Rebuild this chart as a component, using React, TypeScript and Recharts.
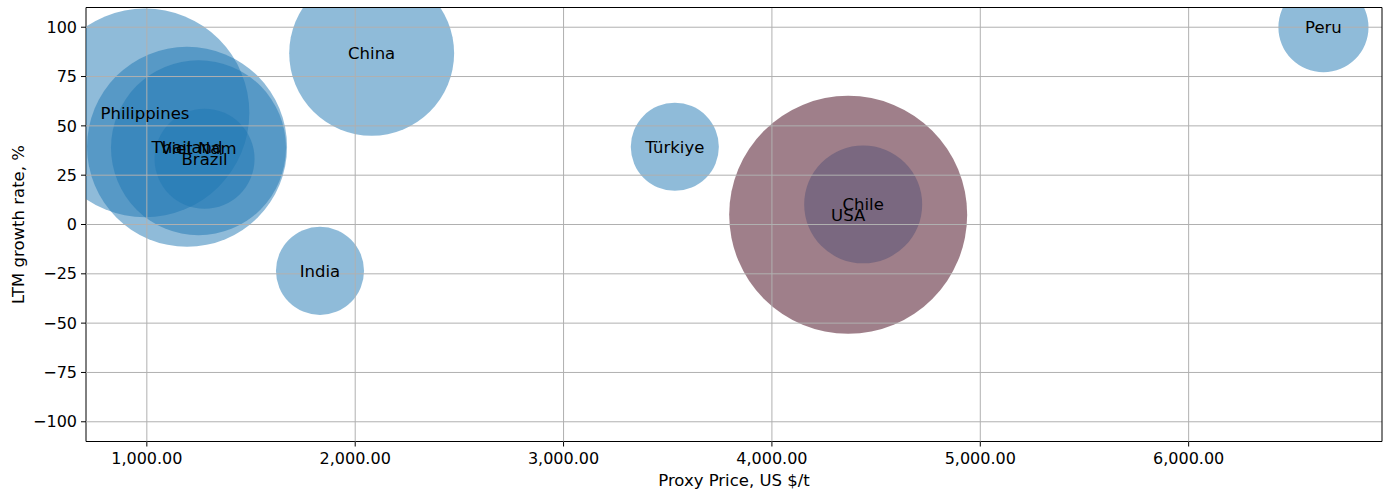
import { ScatterChart, Scatter, XAxis, YAxis, ZAxis, CartesianGrid, Cell, LabelList, ReferenceLine } from "recharts";

const countries = ["Philippines", "Thailand", "Viet Nam", "Brazil", "China", "India", "Türkiye", "USA", "Chile", "Peru"];
const proxyPrice = [991, 1193, 1248, 1277, 2079, 1831, 3534, 4366, 4438, 6647];
const growthRate = [56.6, 39.4, 38.9, 33.3, 86.8, -23.5, 39.4, 4.9, 10.2, 100];
const volume = [109, 100, 76.6, 25, 68, 19.4, 19.4, 141.6, 34.8, 20.3];
const colors = ["#1f77b4", "#1f77b4", "#1f77b4", "#1f77b4", "#1f77b4", "#1f77b4", "#1f77b4", "#400015", "#555276", "#1f77b4"];

const xTicks = [1000, 2000, 3000, 4000, 5000, 6000];
const yTicks = [-100, -75, -50, -25, 0, 25, 50, 75, 100];
const xDomain = [708, 6928];
const yDomain = [-110, 110];

const data = countries.map((name, i) => ({
  name,
  price: proxyPrice[i],
  growth: growthRate[i],
  volume: volume[i],
}));

const font = "'DejaVu Sans', sans-serif";
const tickStyle = { fontSize: 16, fill: "#000", fontFamily: font };

function fmtPrice(v: number): string {
  return v.toLocaleString("en-US", { minimumFractionDigits: 2, maximumFractionDigits: 2 });
}

function fmtGrowth(v: number): string {
  return v < 0 ? `\u2212${-v}` : `${v}`;
}

export default function App() {
  return (
    <div style={{ position: "absolute", left: 0, top: 0, width: 1389, height: 489, background: "#fff", fontFamily: font }}>
      <ScatterChart width={1389} height={489} margin={{ top: 7.5, right: 7, bottom: 0, left: 0 }}>
        <XAxis
          type="number"
          dataKey="price"
          domain={xDomain}
          ticks={xTicks}
          allowDataOverflow
          tickFormatter={fmtPrice}
          tick={tickStyle}
          tickSize={5}
          tickMargin={6}
          height={47.5}
          stroke="#000"
          label={{ value: "Proxy Price, US $/t", position: "insideBottom", offset: 3, fontSize: 16.5, fill: "#000", fontFamily: font }}
        />
        <YAxis
          type="number"
          dataKey="growth"
          domain={yDomain}
          ticks={yTicks}
          allowDataOverflow
          tickFormatter={fmtGrowth}
          tick={tickStyle}
          tickSize={5}
          tickMargin={4}
          width={86}
          stroke="#000"
          label={{ value: "LTM growth rate, %", angle: -90, position: "insideLeft", offset: 18, fontSize: 16.5, fill: "#000", fontFamily: font, style: { textAnchor: "middle" } }}
        />
        <ZAxis type="number" dataKey="volume" domain={[0, 150]} range={[0, 47124]} />
        <Scatter data={data} isAnimationActive={false}>
          {data.map((d, i) => (
            <Cell key={d.name} fill={colors[i]} fillOpacity={0.5} />
          ))}
          <LabelList dataKey="name" position="center" fill="#000" fontSize={16.5} fontFamily={font} />
        </Scatter>
        <CartesianGrid stroke="#b0b0b0" strokeWidth={1} horizontalValues={yTicks} verticalValues={xTicks} fill="none" zIndex={700} />
        <ReferenceLine y={yDomain[1]} stroke="#000" strokeWidth={1} zIndex={800} />
        <ReferenceLine x={xDomain[1]} stroke="#000" strokeWidth={1} zIndex={800} />
      </ScatterChart>
    </div>
  );
}
